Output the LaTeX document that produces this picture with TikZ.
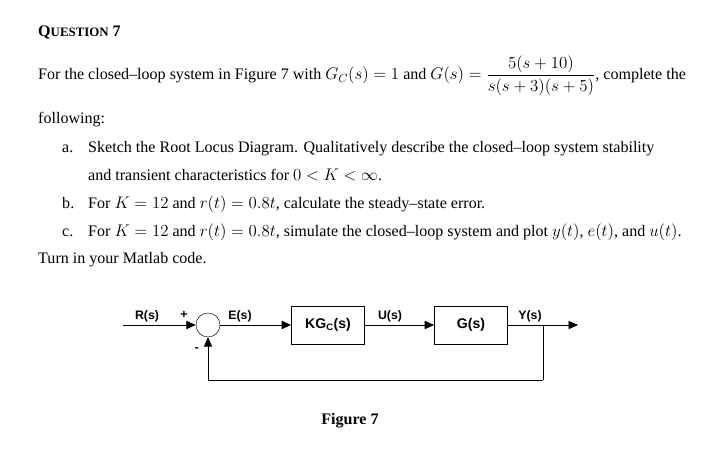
\documentclass[tikz,border=0pt]{standalone}
\usepackage{fontspec}
\setmainfont{Liberation Serif}
\setsansfont{Liberation Sans}
\usepackage{amsmath}
\usetikzlibrary{arrows.meta,positioning}
\tikzset{
  txt/.style={anchor=base west,inner sep=0pt,font=\fontsize{13.7}{15}\selectfont},
  blk/.style={draw,minimum height=1.14cm,minimum width=2.2cm,font=\sffamily\bfseries\fontsize{12}{14}\selectfont},
  lbl/.style={font=\sffamily\bfseries\fontsize{10.5}{12}\selectfont,inner sep=1pt},
  sig/.style={-{Triangle[length=8pt,width=7pt]},semithick}
}
\begin{document}
\begin{tikzpicture}[x=0.03cm,y=-0.03cm]
\useasboundingbox (0,0) rectangle (711,451);
% text of the question
\node[txt,font=\bfseries\fontsize{13.7}{15}\selectfont] (Q) at (38,37) {Q\fontsize{11}{12}\selectfont UESTION\fontsize{13.7}{15}\selectfont{} 7};
\node[txt] (L1) at (38,80) {For the closed--loop system in Figure 7 with $G_C(s)=1$ and $G(s)=\dfrac{5(s+10)}{s(s+3)(s+5)}$, complete the};
\node[txt] (L2) at (38,123) {following:};
\node[txt] (Ta) at (62,152) {a.};
\node[txt] (La) at (88,152) {Sketch the Root Locus Diagram. Qualitatively describe the closed--loop system stability};
\node[txt] (La2) at (88,180) {and transient characteristics for $0<K<\infty$.};
\node[txt] (Tb) at (62,208) {b.};
\node[txt] (Lb) at (88,208) {For $K=12$ and $r(t)=0.8t$, calculate the steady--state error.};
\node[txt] (Tc) at (62,236) {c.};
\node[txt] (Lc) at (88,236) {For $K=12$ and $r(t)=0.8t$, simulate the closed--loop system and plot $y(t)$, $e(t)$, and $u(t)$.};
\node[txt] (L3) at (38,263) {Turn in your Matlab code.};
% block diagram
\coordinate (in) at (123,325);
\node[draw,circle,minimum size=0.72cm,inner sep=0pt] (sum) at (208,325) {};
\node[blk] (C) at (328,325) {KG\textsubscript{\fontsize{8}{9}\selectfont C}(s)};
\node[blk] (G) at (471,325) {G(s)};
\coordinate (br) at (543,325);
\coordinate (out) at (578,325);
\coordinate (bot) at (543,380);
\draw[sig] (in) -- (sum);
\draw[sig] (sum) -- (C);
\draw[sig] (C) -- (G);
\draw[sig] (G) -- (out);
\draw[semithick] (br) -- (bot);
\draw[sig] (bot) -| (sum);
\node[lbl] at (147,316) {R(s)};
\node[lbl] at (184,315) {+};
\node[lbl] at (197,350) {-};
\node[lbl] at (240,316) {E(s)};
\node[lbl] at (390,316) {U(s)};
\node[lbl] at (530,316) {Y(s)};
\node[txt,anchor=center,font=\bfseries\fontsize{13.7}{15}\selectfont] (F) at (350,421) {Figure 7};
\end{tikzpicture}
\end{document}
